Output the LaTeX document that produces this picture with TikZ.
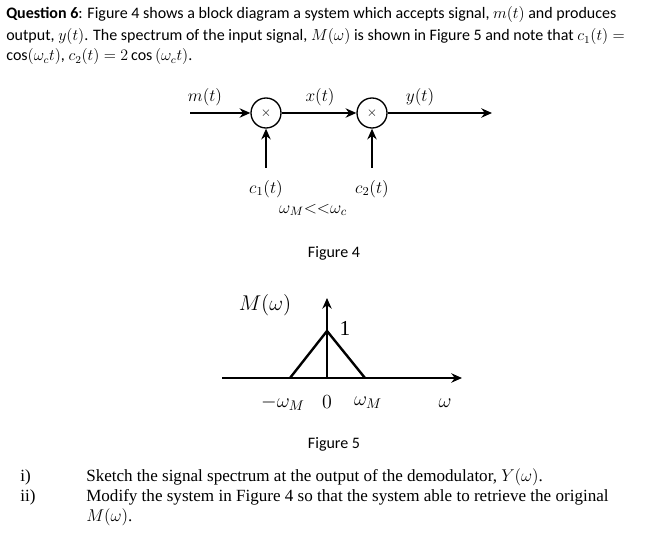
\documentclass[tikz,border=0pt]{standalone}
\usepackage{fix-cm}
\usepackage{fontspec}
\setmainfont{Carlito}
\newfontfamily\tnr{Liberation Serif}
\usetikzlibrary{arrows.meta}
\begin{document}
\begin{tikzpicture}[x=0.75pt,y=-0.75pt,
  txt/.style={anchor=west,inner sep=0,font=\fontsize{12}{13}\selectfont},
  qtxt/.style={anchor=west,inner sep=0,font=\tnr\fontsize{12.8}{13}\selectfont},
  lab/.style={inner sep=0,font=\tnr\fontsize{13}{13}\selectfont},
  sig/.style={line width=1.6pt,-{Stealth[length=8pt,width=7pt]}},
  mult/.style={circle,draw,line width=1pt,minimum size=30*0.75pt,inner sep=0}]
\useasboundingbox (0,0) rectangle (660,534);
\node[txt] (q1) at (6,15) {\textbf{Question 6}: Figure 4 shows a block diagram a system which accepts signal, $m(t)$ and produces};
\node[txt] (q2) at (6,37) {output, $y(t)$. The spectrum of the input signal, $M(\omega)$ is shown in Figure 5 and note that $c_1(t)=$};
\node[txt] (q3) at (6,57) {$\cos(\omega_c t)$, $c_2(t)=2\cos\,(\omega_c t)$.};
% Figure 4
\node[mult] (m1) at (266,113) {$\times$};
\node[mult] (m2) at (372,113) {$\times$};
\coordinate (in) at (190,113);
\coordinate (out) at (492,113);
\coordinate (c1) at (266,168);
\coordinate (c2) at (372,168);
\draw[sig] (in) -- (m1);
\draw[sig] (m1) -- (m2);
\draw[sig] (m2) -- (out);
\draw[sig] (c1) -- (m1);
\draw[sig] (c2) -- (m2);
\node[lab] (lm) at (205,97) {$m(t)$};
\node[lab] (lx) at (320,97) {$x(t)$};
\node[lab] (ly) at (420,97) {$y(t)$};
\node[lab] (lc1) at (266,189) {$c_1(t)$};
\node[lab] (lc2) at (372,189) {$c_2(t)$};
\node[lab] (lw) at (313,210) {$\omega_M{<}{<}\omega_c$};
\node[txt,anchor=center] (f4) at (334,253) {Figure 4};
% Figure 5
\coordinate (ax0) at (222,378);
\coordinate (ax1) at (462,378);
\coordinate (v0) at (327,378);
\coordinate (v1) at (327,298);
\draw[sig,line width=1.8pt] (ax0) -- (ax1);
\draw[line width=1.1pt,-{Stealth[length=8pt,width=7pt]}] (v0) -- (v1);
\coordinate (t0) at (290,378);
\coordinate (t1) at (327,331);
\coordinate (t2) at (365,378);
\draw[line width=1.8pt] (t0) -- (t1) -- (t2);
\node[lab,font=\tnr\fontsize{16}{16}\selectfont] (lM) at (265,305) {$M(\omega)$};
\node[lab,font=\tnr\fontsize{16}{16}\selectfont] (l1) at (345,328) {1};
\node[lab,font=\fontsize{15}{15}\selectfont] (lmw) at (283,403) {$-\omega_M$};
\node[lab,font=\fontsize{15}{15}\selectfont] (l0) at (327,402) {$0$};
\node[lab,font=\fontsize{15}{15}\selectfont] (lpw) at (368,403) {$\omega_M$};
\node[lab,font=\fontsize{15}{15}\selectfont] (lom) at (445,403) {$\omega$};
\node[txt,anchor=center] (f5) at (334,444) {Figure 5};
% questions
\node[qtxt] (i) at (20,477) {i)};
\node[qtxt] (ii) at (20,497) {ii)};
\node[qtxt] (a1) at (86,477) {Sketch the signal spectrum at the output of the demodulator, $Y(\omega)$.};
\node[qtxt] (a2) at (86,497) {Modify the system in Figure 4 so that the system able to retrieve the original};
\node[qtxt] (a3) at (86,517) {$M(\omega)$.};
\end{tikzpicture}
\end{document}
